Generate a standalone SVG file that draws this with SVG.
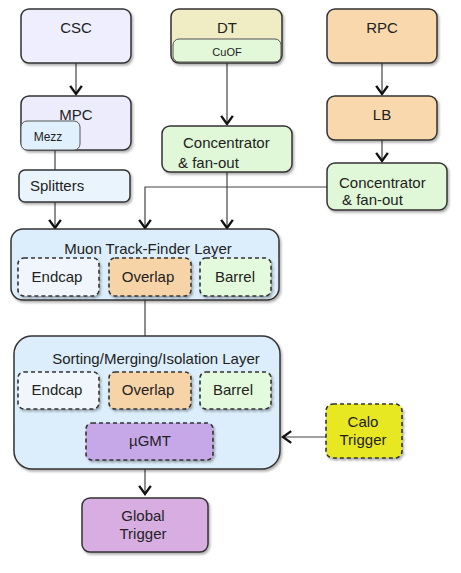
<svg xmlns="http://www.w3.org/2000/svg" width="461" height="573" viewBox="0 0 461 573">
<style>
text{font-family:"Liberation Sans",Arial,sans-serif;font-size:15px;fill:#222}
.c{text-anchor:middle}
.box{stroke:#333;stroke-width:1.5}
.dash{stroke:#333;stroke-width:1.6;stroke-dasharray:4 3}
.ln{stroke:#444;stroke-width:1.2;fill:none}
.sh{filter:url(#sh)}
</style>
<defs>
<filter id="sh" x="-10%" y="-10%" width="130%" height="130%">
<feDropShadow dx="1.5" dy="2" stdDeviation="1.2" flood-color="#000" flood-opacity="0.3"/>
</filter>
<marker id="ah" markerUnits="userSpaceOnUse" markerWidth="14" markerHeight="14" refX="9" refY="6" orient="auto" viewBox="0 0 12 12">
<path d="M2,1 L9,6 L2,11" fill="none" stroke="#111" stroke-width="2"/>
</marker>
</defs>
<g id="connectors">
<line class="ln" x1="76" y1="63" x2="76" y2="94" marker-end="url(#ah)"/>
<line class="ln" x1="55" y1="150" x2="55" y2="170"/>
<line class="ln" x1="55" y1="202" x2="55" y2="228" marker-end="url(#ah)"/>
<line class="ln" x1="227" y1="63" x2="227" y2="124" marker-end="url(#ah)"/>
<line class="ln" x1="227" y1="172" x2="227" y2="228" marker-end="url(#ah)"/>
<polyline class="ln" points="327,187 145,187 145,228" marker-end="url(#ah)"/>
<line class="ln" x1="382" y1="63" x2="382" y2="94" marker-end="url(#ah)"/>
<line class="ln" x1="382" y1="136" x2="382" y2="161" marker-end="url(#ah)"/>
<line class="ln" x1="145" y1="296" x2="145" y2="336"/>
<line class="ln" x1="326" y1="437" x2="283" y2="437" marker-end="url(#ah)"/>
<line class="ln" x1="145" y1="469" x2="145" y2="494" marker-end="url(#ah)"/>
</g>
<g id="csc">
<rect class="box sh" x="21" y="9" width="110" height="54" rx="8" fill="#eeeeff"/>
<text class="c" x="76" y="33">CSC</text>
</g>
<g id="dt">
<rect class="box sh" x="171" y="9" width="111" height="54" rx="8" fill="#f0ecc4"/>
<text class="c" x="227" y="33">DT</text>
<rect x="173" y="39" width="108" height="23" rx="6" fill="#e2f8d8" stroke="#555" stroke-width="1"/>
<text class="c" x="227" y="56" style="font-size:11px">CuOF</text>
</g>
<g id="rpc">
<rect class="box sh" x="327" y="9" width="110" height="54" rx="8" fill="#f8d8ac"/>
<text class="c" x="382" y="33">RPC</text>
</g>
<g id="mpc">
<rect class="box sh" x="21" y="96" width="110" height="54" rx="8" fill="#ececfc"/>
<text class="c" x="76" y="120">MPC</text>
</g>
<g id="mezz">
<rect x="21" y="121" width="59" height="29" rx="6" fill="#e0f0fc" stroke="#555" stroke-width="1"/>
<text class="c" x="48" y="141" style="font-size:12px">Mezz</text>
</g>
<g id="splitters">
<rect class="box sh" x="19" y="170" width="111" height="32" rx="6" fill="#eaf4fc"/>
<text x="30" y="191">Splitters</text>
</g>
<g id="lb">
<rect class="box sh" x="327" y="96" width="110" height="44" rx="8" fill="#f8d8ac"/>
<text class="c" x="382" y="120">LB</text>
</g>
<g id="conc-dt">
<rect class="box sh" x="162" y="126" width="130" height="46" rx="8" fill="#e0f8d8"/>
<text x="183" y="148">Concentrator</text>
<text x="178" y="168">&amp; fan-out</text>
</g>
<g id="conc-rpc">
<rect class="box sh" x="327" y="163" width="120" height="47" rx="8" fill="#e0f8d8"/>
<text x="339" y="188">Concentrator</text>
<text x="342" y="205">&amp; fan-out</text>
</g>
<g id="mtf-layer">
<rect class="box sh" x="11" y="229" width="268" height="71" rx="12" fill="#dceefc"/>
<text class="c" x="148" y="254">Muon Track-Finder Layer</text>
</g>
<g id="mtf-endcap">
<rect class="dash sh" x="18" y="258" width="81" height="38" rx="6" fill="#f0f6fc"/>
<text class="c" x="57" y="282">Endcap</text>
</g>
<g id="mtf-overlap">
<rect class="dash sh" x="109" y="258" width="82" height="38" rx="6" fill="#f6d4a8"/>
<text class="c" x="148" y="282">Overlap</text>
</g>
<g id="mtf-barrel">
<rect class="dash sh" x="200" y="258" width="71" height="38" rx="6" fill="#e4fadc"/>
<text class="c" x="235" y="282">Barrel</text>
</g>
<g id="sm-layer">
<rect class="box sh" x="14" y="336" width="266" height="133" rx="18" fill="#dceefc"/>
<text class="c" x="156" y="364">Sorting/Merging/Isolation Layer</text>
</g>
<g id="sm-endcap">
<rect class="dash sh" x="18" y="372" width="81" height="37" rx="6" fill="#f0f6fc"/>
<text class="c" x="57" y="395">Endcap</text>
</g>
<g id="sm-overlap">
<rect class="dash sh" x="109" y="372" width="82" height="37" rx="6" fill="#f6d4a8"/>
<text class="c" x="148" y="395">Overlap</text>
</g>
<g id="sm-barrel">
<rect class="dash sh" x="200" y="372" width="71" height="37" rx="6" fill="#e4fadc"/>
<text class="c" x="233" y="395">Barrel</text>
</g>
<g id="ugmt">
<rect class="dash sh" x="86" y="423" width="127" height="37" rx="6" fill="#c6a8e8"/>
<text class="c" x="150" y="446">µGMT</text>
</g>
<g id="calo">
<rect class="dash sh" x="326" y="404" width="76" height="54" rx="7" fill="#e8e820"/>
<text class="c" x="363" y="427">Calo</text>
<text class="c" x="363" y="445">Trigger</text>
</g>
<g id="global">
<rect class="box sh" x="82" y="498" width="126" height="54" rx="8" fill="#d8aee2"/>
<text class="c" x="143" y="521">Global</text>
<text class="c" x="143" y="539">Trigger</text>
</g>
</svg>
